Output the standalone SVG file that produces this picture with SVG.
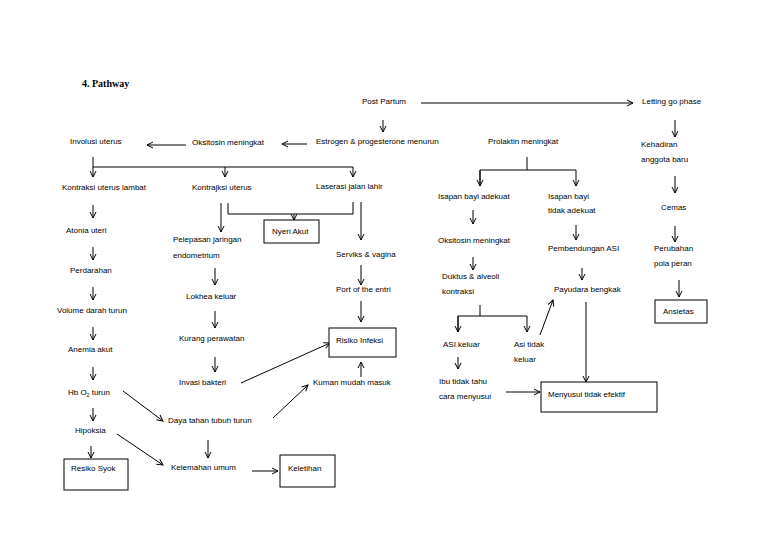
<svg xmlns="http://www.w3.org/2000/svg" width="768" height="543" viewBox="0 0 768 543">
<style>
text{font-family:"Liberation Sans",Arial,sans-serif;font-size:8px;fill:#000}
.t{font-family:"Liberation Serif",serif;font-size:10px;font-weight:bold}
line,polyline{stroke:#000;stroke-width:1;fill:none}
rect{fill:#fff;stroke:#000;stroke-width:1}
</style>
<defs><marker id="a" markerWidth="8" markerHeight="8" refX="7" refY="4" orient="auto" markerUnits="userSpaceOnUse"><polyline points="1,1 7,4 1,7" style="stroke:#000;fill:none"/></marker></defs>
<rect x="0" y="0" width="768" height="543" style="stroke:none"/>
<text class="t" x="82" y="87">4.   Pathway</text>
<g id="connectors">
<line x1="421" y1="103" x2="633" y2="103" marker-end="url(#a)"/>
<line x1="383" y1="120" x2="383" y2="132" marker-end="url(#a)"/>
<line x1="307" y1="144" x2="282" y2="144" marker-end="url(#a)"/>
<line x1="186" y1="145" x2="147" y2="145" marker-end="url(#a)"/>
<polyline points="93,157 93,167 353,167"/>
<line x1="93" y1="167" x2="93" y2="177" marker-end="url(#a)"/>
<line x1="225" y1="167" x2="225" y2="177" marker-end="url(#a)"/>
<line x1="353" y1="167" x2="353" y2="177" marker-end="url(#a)"/>
<line x1="221" y1="203" x2="221" y2="232" marker-end="url(#a)"/>
<polyline points="228,203 228,214 353,214 353,202"/>
<line x1="294" y1="214" x2="294" y2="220" marker-end="url(#a)"/>
<line x1="361" y1="202" x2="361" y2="240" marker-end="url(#a)"/>
<line x1="215" y1="268" x2="215" y2="285" marker-end="url(#a)"/>
<line x1="215" y1="311" x2="215" y2="328" marker-end="url(#a)"/>
<line x1="215" y1="357" x2="215" y2="372" marker-end="url(#a)"/>
<line x1="241" y1="383" x2="330" y2="343" marker-end="url(#a)"/>
<line x1="361" y1="265" x2="361" y2="285" marker-end="url(#a)"/>
<line x1="361" y1="301" x2="361" y2="322" marker-end="url(#a)"/>
<line x1="361" y1="377" x2="361" y2="362" marker-end="url(#a)"/>
<line x1="273" y1="418" x2="308" y2="385" marker-end="url(#a)"/>
<line x1="208" y1="440" x2="208" y2="458" marker-end="url(#a)"/>
<line x1="252" y1="471" x2="278" y2="471" marker-end="url(#a)"/>
<line x1="93" y1="205" x2="93" y2="218" marker-end="url(#a)"/>
<line x1="93" y1="247" x2="93" y2="260" marker-end="url(#a)"/>
<line x1="93" y1="287" x2="93" y2="300" marker-end="url(#a)"/>
<line x1="93" y1="327" x2="93" y2="340" marker-end="url(#a)"/>
<line x1="93" y1="367" x2="93" y2="380" marker-end="url(#a)"/>
<line x1="93" y1="408" x2="93" y2="421" marker-end="url(#a)"/>
<line x1="91" y1="446" x2="91" y2="458" marker-end="url(#a)"/>
<line x1="123" y1="391" x2="163" y2="421" marker-end="url(#a)"/>
<line x1="117" y1="434" x2="163" y2="465" marker-end="url(#a)"/>
<polyline points="527,157 527,170 480,170 480,186"/>
<line x1="480" y1="170" x2="480" y2="186" marker-end="url(#a)"/>
<line x1="527" y1="170" x2="576" y2="170"/>
<line x1="576" y1="170" x2="576" y2="186" marker-end="url(#a)"/>
<line x1="473" y1="210" x2="473" y2="224" marker-end="url(#a)"/>
<line x1="473" y1="257" x2="473" y2="270" marker-end="url(#a)"/>
<line x1="576" y1="225" x2="576" y2="240" marker-end="url(#a)"/>
<line x1="582" y1="268" x2="582" y2="280" marker-end="url(#a)"/>
<polyline points="480,305 480,316 458,316 458,332"/>
<line x1="458" y1="316" x2="458" y2="332" marker-end="url(#a)"/>
<line x1="480" y1="316" x2="527" y2="316"/>
<line x1="527" y1="316" x2="527" y2="332" marker-end="url(#a)"/>
<line x1="540" y1="335" x2="553" y2="300" marker-end="url(#a)"/>
<line x1="458" y1="357" x2="458" y2="369" marker-end="url(#a)"/>
<line x1="506" y1="392" x2="540" y2="392" marker-end="url(#a)"/>
<line x1="586" y1="302" x2="586" y2="382" marker-end="url(#a)"/>
<line x1="675" y1="120" x2="675" y2="137" marker-end="url(#a)"/>
<line x1="675" y1="176" x2="675" y2="193" marker-end="url(#a)"/>
<line x1="675" y1="226" x2="675" y2="242" marker-end="url(#a)"/>
<line x1="679" y1="280" x2="679" y2="297" marker-end="url(#a)"/>
</g>
<g id="n-postpartum"><text x="362" y="104">Post Partum</text></g>
<g id="n-letting"><text x="642" y="104">Letting go phase</text></g>
<g id="n-estrogen"><text x="316" y="144">Estrogen &amp; progesterone menurun</text></g>
<g id="n-oksitosin1"><text x="192" y="145">Oksitosin meningkat</text></g>
<g id="n-involusi"><text x="70" y="144">Involusi uterus</text></g>
<g id="n-kontraksi-lambat"><text x="62" y="190">Kontraksi uterus lambat</text></g>
<g id="n-kontrajksi"><text x="192" y="190">Kontrajksi uterus</text></g>
<g id="n-laserasi"><text x="316" y="189">Laserasi jalan lahir</text></g>
<g id="n-nyeri"><rect x="264" y="220" width="55" height="23"/><text x="272" y="234">Nyeri Akut</text></g>
<g id="n-pelepasan"><text x="173" y="242">Pelepasan jaringan</text><text x="173" y="258">endometrium</text></g>
<g id="n-serviks"><text x="336" y="257">Serviks &amp; vagina</text></g>
<g id="n-lokhea"><text x="186" y="299">Lokhea keluar</text></g>
<g id="n-port"><text x="336" y="292">Port of the entri</text></g>
<g id="n-kurang"><text x="179" y="341">Kurang perawatan</text></g>
<g id="n-risiko-infeksi"><rect x="329" y="328" width="67" height="29"/><text x="336" y="343">Risiko Infeksi</text></g>
<g id="n-invasi"><text x="179" y="385">Invasi bakteri</text></g>
<g id="n-kuman"><text x="313" y="385">Kuman mudah masuk</text></g>
<g id="n-daya"><text x="168" y="423">Daya tahan tubuh turun</text></g>
<g id="n-kelemahan"><text x="171" y="470">Kelemahan umum</text></g>
<g id="n-keletihan"><rect x="280" y="455" width="55" height="32"/><text x="288" y="471">Keletihan</text></g>
<g id="n-atonia"><text x="66" y="233">Atonia uteri</text></g>
<g id="n-perdarahan"><text x="70" y="273">Perdarahan</text></g>
<g id="n-volume"><text x="57" y="313">Volume darah  turun</text></g>
<g id="n-anemia"><text x="68" y="352">Anemia akut</text></g>
<g id="n-hb"><text x="68" y="395">Hb O<tspan font-size="5" dy="2">2</tspan><tspan dy="-2"> turun</tspan></text></g>
<g id="n-hipoksia"><text x="75" y="433">Hipoksia</text></g>
<g id="n-syok"><rect x="64" y="459" width="64" height="31"/><text x="71" y="471">Resiko Syok</text></g>
<g id="n-prolaktin"><text x="488" y="144">Prolaktin meningkat</text></g>
<g id="n-isapan-adekuat"><text x="438" y="199">Isapan bayi adekuat</text></g>
<g id="n-isapan-tidak"><text x="548" y="199">Isapan bayi</text><text x="548" y="213">tidak adekuat</text></g>
<g id="n-oksitosin2"><text x="438" y="243">Oksitosin meningkat</text></g>
<g id="n-pembendungan"><text x="548" y="251">Pembendungan ASI</text></g>
<g id="n-duktus"><text x="442" y="279">Duktus &amp; alveoli</text><text x="442" y="294">kontraksi</text></g>
<g id="n-payudara"><text x="554" y="292">Payudara bengkak</text></g>
<g id="n-asi-keluar"><text x="443" y="347">ASI keluar</text></g>
<g id="n-asi-tidak"><text x="514" y="347">Asi tidak</text><text x="514" y="362">keluar</text></g>
<g id="n-ibu"><text x="439" y="384">Ibu tidak tahu</text><text x="439" y="399">cara menyusui</text></g>
<g id="n-menyusui"><rect x="541" y="382" width="116" height="30"/><text x="548" y="397">Menyusui tidak efektif</text></g>
<g id="n-kehadiran"><text x="641" y="147">Kehadiran</text><text x="641" y="162">anggota baru</text></g>
<g id="n-cemas"><text x="661" y="210">Cemas</text></g>
<g id="n-perubahan"><text x="654" y="251">Perubahan</text><text x="654" y="266">pola peran</text></g>
<g id="n-ansietas"><rect x="655" y="300" width="52" height="23"/><text x="663" y="314">Ansietas</text></g>
</svg>
